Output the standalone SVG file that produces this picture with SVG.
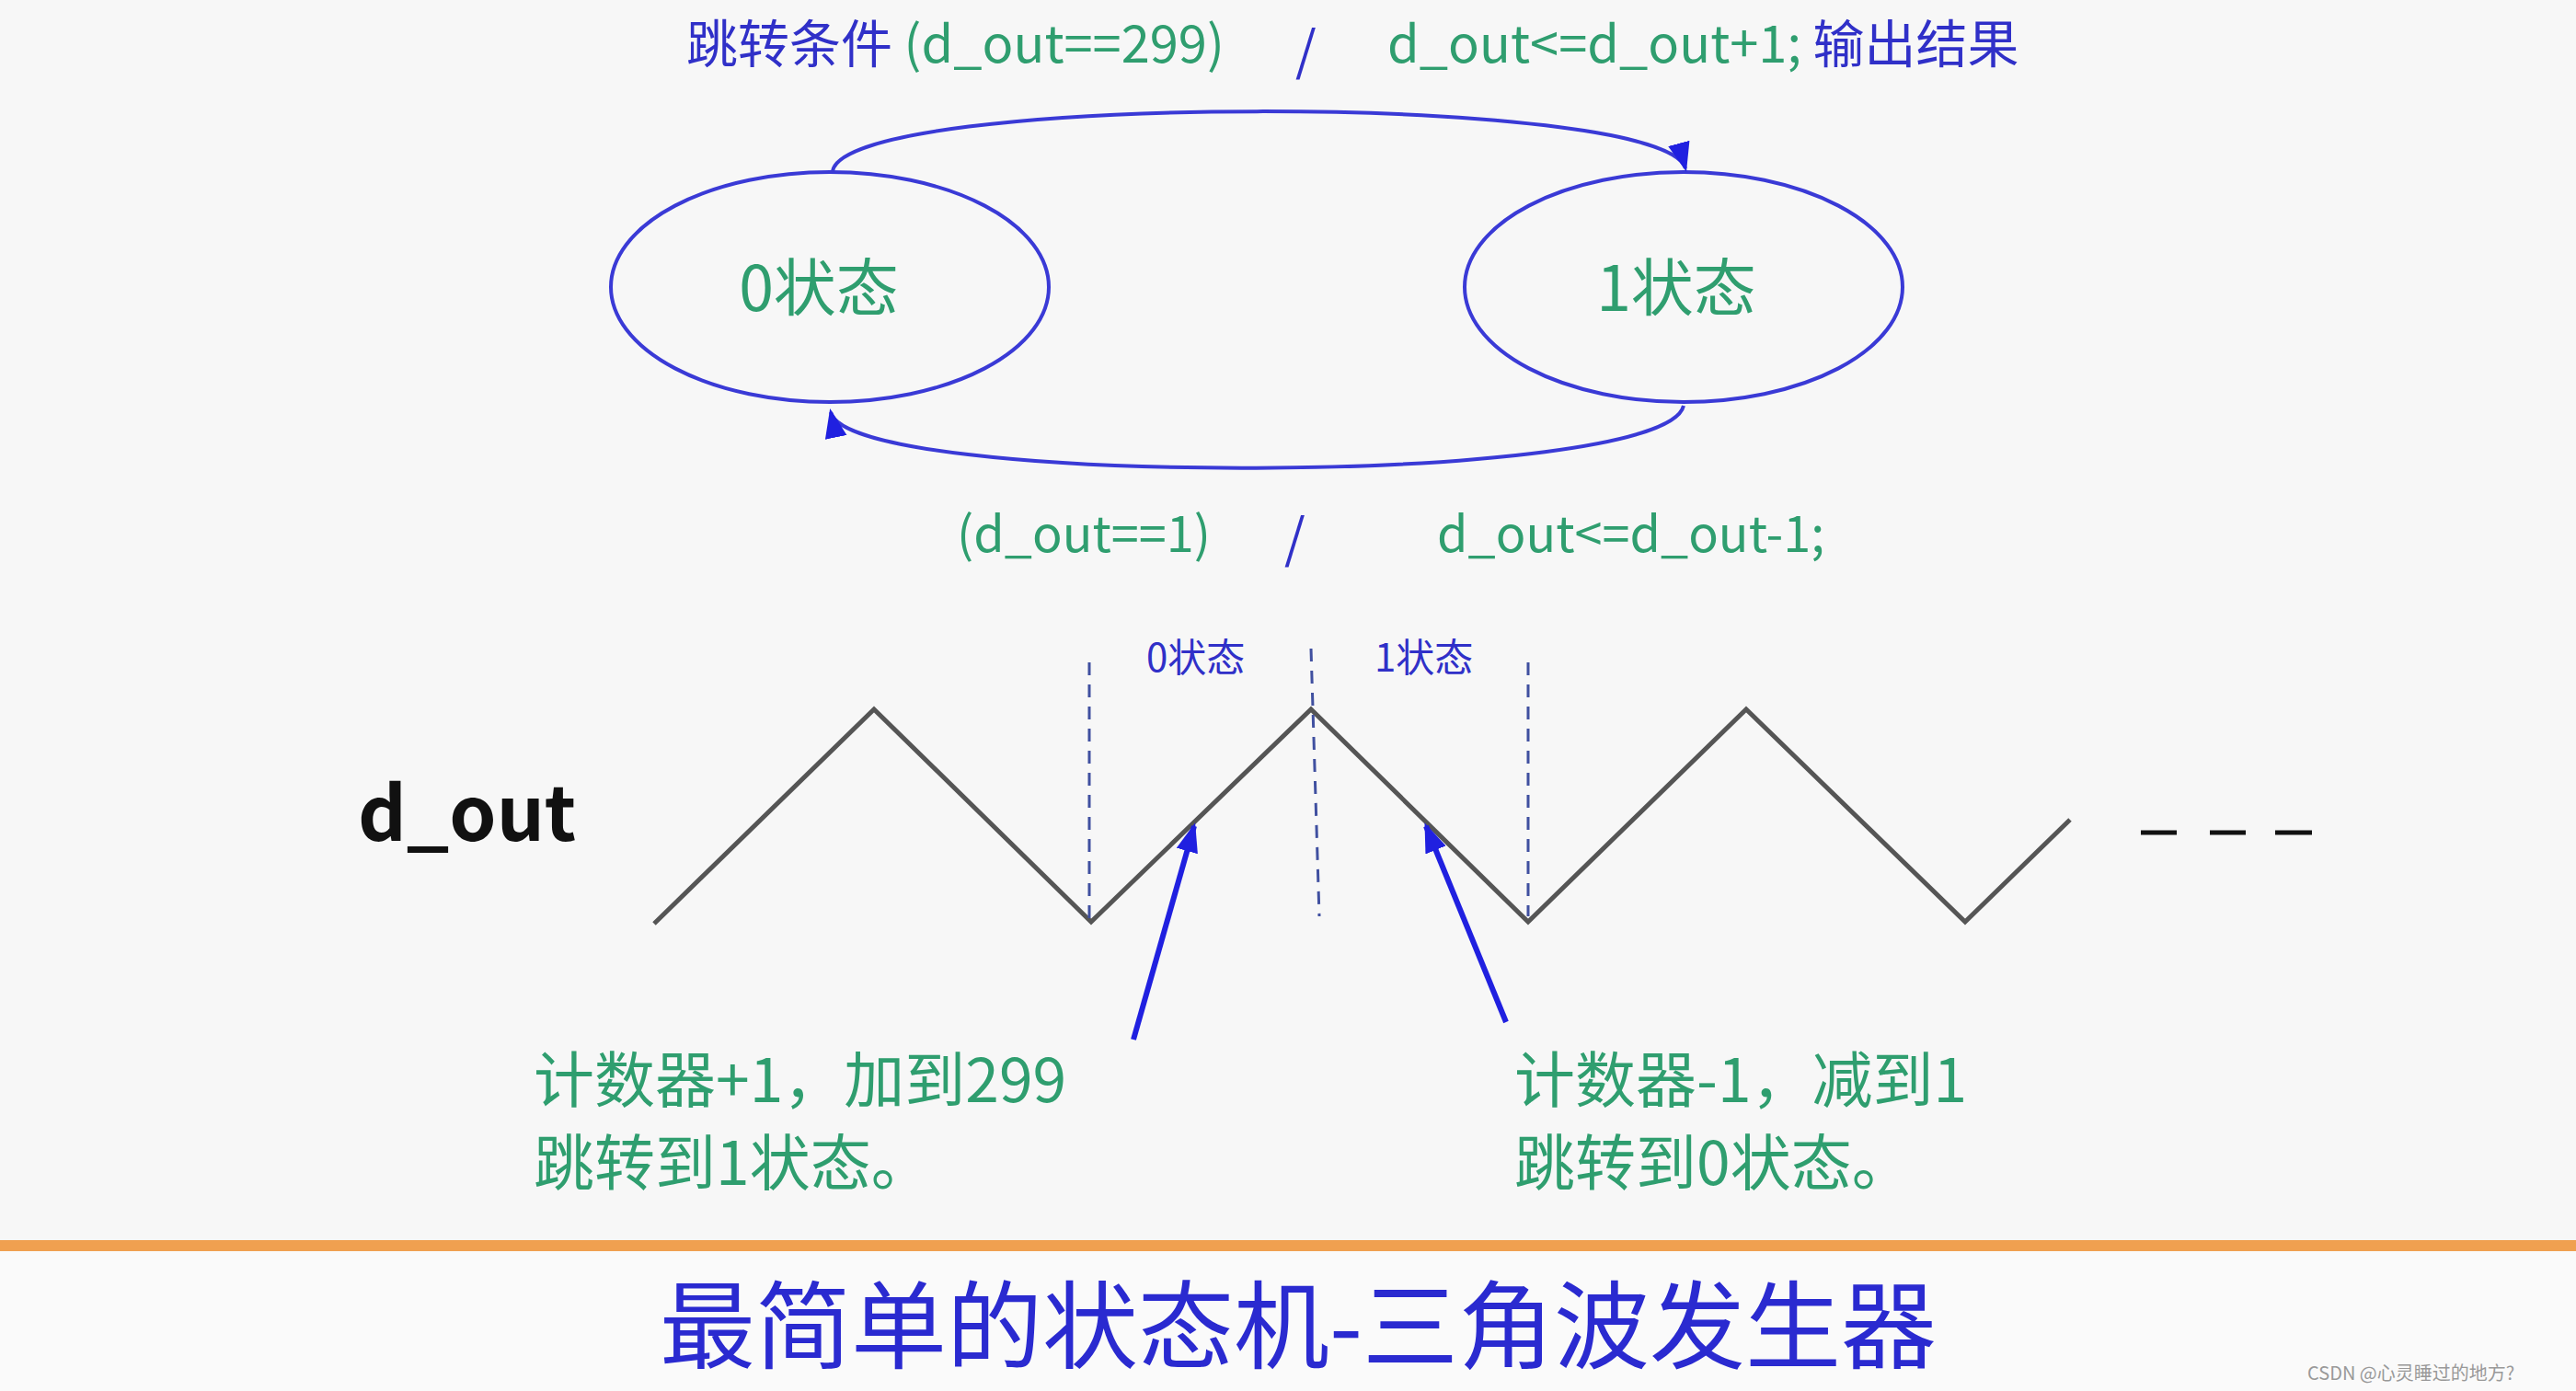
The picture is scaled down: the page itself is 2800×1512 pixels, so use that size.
<svg xmlns="http://www.w3.org/2000/svg" width="2800" height="1512" viewBox="0 0 2800 1512">
<defs>
<style>
.t{font-family:"Noto Sans CJK SC","Liberation Sans",sans-serif}
.g{fill:#2f9e6f}.b{fill:#3030c8}
.st{fill:none;stroke:#3a3ad6;stroke-width:4}
</style>
<marker id="ah2" markerWidth="32" markerHeight="32" refX="28" refY="16" orient="auto" markerUnits="userSpaceOnUse" viewBox="0 0 32 32"><path d="M0,4L32,16L0,28z" fill="#2020e0"/></marker>
</defs>
<rect width="2800" height="1512" fill="#f7f7f7"/>
<rect y="1360" width="2800" height="152" fill="#fafafa"/>
<rect y="1348" width="2800" height="12" fill="#f0a050"/>
<g id="texts" class="t">
<text x="746" y="68" font-size="56" class="b">跳转条件 <tspan class="g">(d_out==299)</tspan></text>
<text x="1408" y="76" font-size="58" class="b">/</text>
<text x="1508" y="68" font-size="56" class="g">d_out&lt;=d_out+1; <tspan class="b">输出结果</tspan></text>
<text x="1040" y="600" font-size="54" class="g">(d_out==1)</text>
<text x="1396" y="606" font-size="58" class="b">/</text>
<text x="1562" y="600" font-size="54" class="g">d_out&lt;=d_out-1;</text>
<text x="1246" y="730" font-size="42" class="b">0状态</text>
<text x="1494" y="730" font-size="42" class="b">1状态</text>
<text x="389" y="914" font-size="82" font-weight="bold" fill="#111">d_out</text>
<text x="580" y="1198" font-size="66" class="g">计数器+1，加到299</text>
<text x="580" y="1288" font-size="66" class="g">跳转到1状态。</text>
<text x="1646" y="1198" font-size="66" class="g">计数器-1，减到1</text>
<text x="1646" y="1288" font-size="66" class="g">跳转到0状态。</text>
<text x="1411" y="1480" font-size="104" text-anchor="middle" fill="#2a2ad0">最简单的状态机-三角波发生器</text>
<text x="2508" y="1500" font-size="20" fill="#999">CSDN @心灵睡过的地方?</text>
</g>
<g id="node0"><ellipse cx="902" cy="312" rx="238" ry="125" class="st"/><text x="890" y="338" font-size="68" class="t g" text-anchor="middle">0状态</text></g>
<g id="node1"><ellipse cx="1830" cy="312" rx="238" ry="125" class="st"/><text x="1822" y="338" font-size="68" class="t g" text-anchor="middle">1状态</text></g>
<g id="connectors">
<path d="M905,186 C920,100 1810,100 1832,183" class="st" marker-end="url(#ah2)"/>
<path d="M1830,441 C1810,530 920,530 903,448" class="st" marker-end="url(#ah2)"/>
<polyline points="711,1004 950,771 1186,1002 1425,771 1661,1002 1898,771 2136,1002 2250,891" fill="none" stroke="#555" stroke-width="5"/>
<g stroke="#4050a0" stroke-width="3" stroke-dasharray="14,10">
<line x1="1184" y1="720" x2="1184" y2="1000"/>
<line x1="1425" y1="705" x2="1434" y2="996"/>
<line x1="1661" y1="720" x2="1661" y2="996"/>
</g>
<g stroke="#111" stroke-width="5">
<line x1="2327" y1="905" x2="2366" y2="905"/><line x1="2402" y1="905" x2="2441" y2="905"/><line x1="2473" y1="905" x2="2513" y2="905"/>
</g>
<line x1="1232" y1="1130" x2="1298" y2="898" stroke="#2020e0" stroke-width="6" marker-end="url(#ah2)"/>
<line x1="1637" y1="1111" x2="1550" y2="898" stroke="#2020e0" stroke-width="6" marker-end="url(#ah2)"/>
</g>
</svg>
